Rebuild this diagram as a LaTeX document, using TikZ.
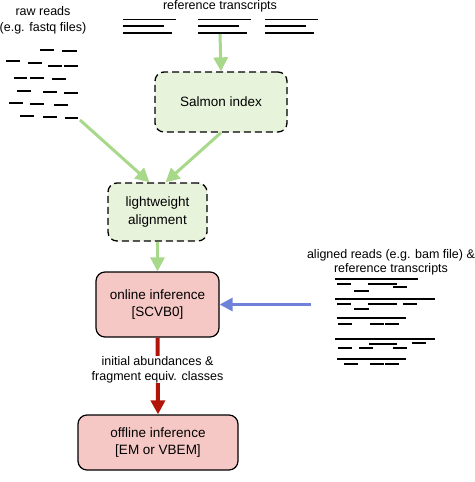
\documentclass[tikz,border=0pt]{standalone}
\usepackage{fontspec}
\setmainfont{Liberation Sans}
\usetikzlibrary{arrows.meta}
\definecolor{idxfill}{HTML}{E8F3DC}
\definecolor{inffill}{HTML}{F5C8C5}
\definecolor{grnarrow}{HTML}{A8D88A}
\definecolor{bluarrow}{HTML}{6E82DA}
\definecolor{redarrow}{HTML}{B2140A}
\tikzset{
  lbl/.style={align=center, inner sep=0pt, font=\fontsize{12.5}{14}\selectfont},
  dashbox/.style={draw, dash pattern=on 7pt off 4pt, line width=1.3pt, rounded corners=9pt,
    fill=idxfill, align=center, font=\fontsize{13.5}{17.5}\selectfont},
  infbox/.style={draw, line width=1.2pt, rounded corners=9pt,
    fill=inffill, align=center, font=\fontsize{13.5}{17.5}\selectfont},
  readln/.style={line width=1.4pt},
  txln/.style={line width=1.8pt},
  grnarr/.style={grnarrow, line width=3pt, -{Triangle[length=14pt,width=14pt]}},
}
\begin{document}
\begin{tikzpicture}[x=1pt,y=-1pt]
   \useasboundingbox (0,0) rectangle (474,482);

   % raw reads
   \node[lbl, font=\fontsize{12.5}{16}\selectfont] (rawreads) at (43,20) {raw reads\\(e.g. fastq files)};
   \foreach \xa/\xb/\yy in {40/54/50, 62/77/51,
       6/20/61, 28/42/63, 48/62/66, 64/78/66,
       14/27/78, 30/44/78, 52/66/79,
       17/31/91, 43/57/92, 64/78/93,
       9/23/103, 30/44/104, 54/68/105,
       20/34/116, 43/57/117, 65/78/118}
     \draw[readln] (\xa,\yy) -- (\xb,\yy);
   \coordinate (rawend) at (80,120);

   % reference transcripts
   \node[lbl] (reftx) at (220,6.5) {reference transcripts};
   \foreach \xo in {0,75,142} {
     \draw[txln] (123+\xo,19.5) -- (176+\xo,19.5);
     \draw[txln] (123+\xo,26) -- (164+\xo,26);
     \draw[txln] (123+\xo,33) -- (172+\xo,33);
   }
   \coordinate (reftxend) at (220,34);

   % boxes
   \node[dashbox, minimum width=132pt, minimum height=60pt] (salmonidx) at (221,102) {Salmon index};
   \node[dashbox, minimum width=99pt, minimum height=58pt] (lwalign) at (157.5,212) {lightweight\\alignment};
   \node[infbox, minimum width=123pt, minimum height=65pt] (online) at (157.5,304.5) {online inference\\{[SCVB0]}};
   \node[infbox, minimum width=160pt, minimum height=55pt] (offline) at (158,442.5) {offline inference\\{[EM or VBEM]}};

   % green arrows
   \draw[grnarr] (reftxend) -- (salmonidx.north);
   \draw[grnarr] (rawend) -- ([xshift=-8pt]lwalign.north);
   \draw[grnarr] (salmonidx.south) -- ([xshift=8pt]lwalign.north);
   \draw[grnarr] (lwalign.south) -- (online.north);

   % aligned reads
   \node[lbl] (alnreads) at (391,262) {aligned reads (e.g. bam file) \&\\reference transcripts};
   \foreach \xa/\xb/\yy in {335/418/279, 335/435/299, 337/406/318, 335/435/339, 337/406/359}
     \draw[txln] (\xa,\yy) -- (\xb,\yy);
   \foreach \xa/\xb/\yy in {337/351/284, 368/383/284, 383/397/284, 393/407/287, 354/369/291,
       337/351/304, 368/383/304, 383/397/304, 403/417/304, 354/369/309,
       338/352/324, 370/384/324, 385/399/324,
       338/352/348, 359/373/348, 369/383/344, 383/397/344, 393/407/348, 412/426/343,
       344/358/364, 370/384/364, 385/399/364}
     \draw[readln] (\xa,\yy) -- (\xb,\yy);
   \coordinate (alnend) at (311,304.5);
   \draw[bluarrow, line width=3pt, -{Triangle[length=13pt,width=13pt]}] (alnend) -- (online.east);

   % online -> offline
   \draw[redarrow, line width=4pt, -{Triangle[length=14pt,width=14pt]}] (online.south) -- (offline.north);
   \node[lbl, fill=white, font=\fontsize{12.5}{15}\selectfont] (abund) at (157.5,369.5) {initial abundances \&\\fragment equiv. classes};
\end{tikzpicture}
\end{document}
